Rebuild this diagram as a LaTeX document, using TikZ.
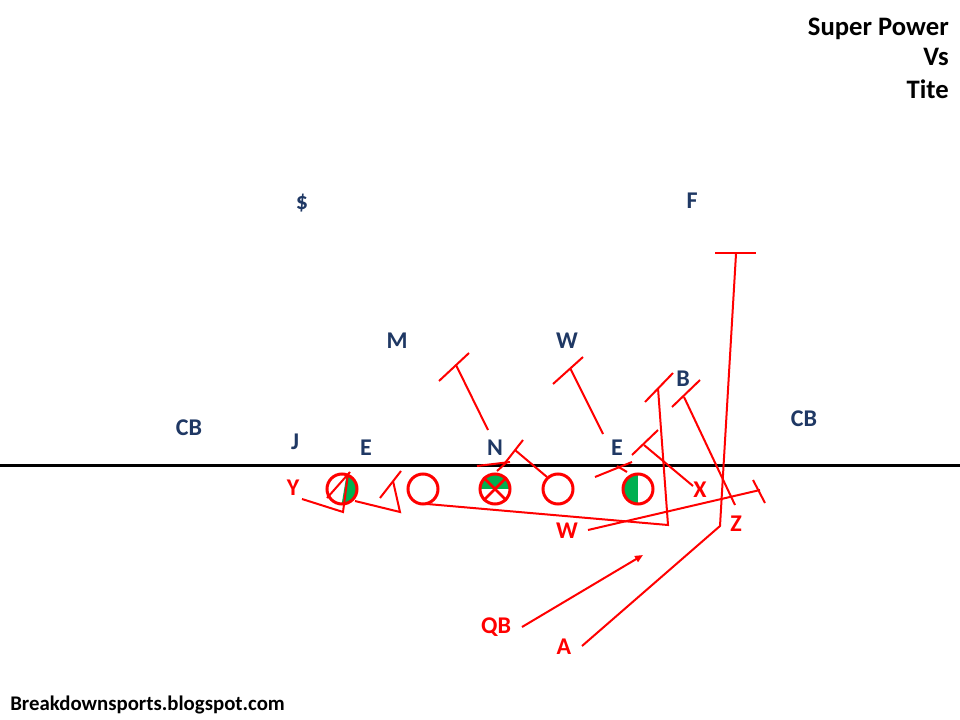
\documentclass[tikz,border=0pt]{standalone}
\usepackage{fontspec}
\setmainfont{Carlito}
\usetikzlibrary{arrows.meta,calc}
\definecolor{navy}{RGB}{31,56,100}
\definecolor{pred}{RGB}{255,0,0}
\definecolor{pgreen}{RGB}{0,176,80}
\begin{document}
\begin{tikzpicture}[x=0.75pt,y=-0.75pt,
  dlab/.style={text=navy,font=\fontsize{18}{22}\selectfont\bfseries,inner sep=0pt,anchor=center},
  olab/.style={text=pred,font=\fontsize{18}{22}\selectfont\bfseries,inner sep=0pt,anchor=center},
  title/.style={text=black,font=\fontsize{20}{24}\selectfont\bfseries,inner sep=0pt,anchor=base east},
  route/.style={draw=pred,line width=1.5pt},
  man/.style={circle,draw=pred,line width=2.25pt,minimum size=22.5pt,inner sep=0pt},
  los/.style={draw=black,line width=2.25pt}]
\useasboundingbox (0,0) rectangle (960,720);
\fill[white] (0,0) rectangle (960,720);

% ---- green fills of the offensive linemen
\begin{scope}
  \clip (342,489) circle[radius=11.25pt];
  \fill[pgreen] (339,520) -- (349,460) -- (370,460) -- (370,520) -- cycle;
\end{scope}
\begin{scope}
  \clip (495,489) circle[radius=11.25pt];
  \fill[pgreen] (475,469) rectangle (515,489);
\end{scope}
\begin{scope}
  \clip (638,489) circle[radius=11.25pt];
  \fill[pgreen] (618,469) rectangle (638,509);
\end{scope}

% ---- line of scrimmage
\coordinate (losL) at (0,465);
\coordinate (losR) at (960,465);
\draw[los] (losL) -- (losR);

% ---- offensive linemen
\node[man] (LT) at (342,489) {};
\node[man] (LG) at (423,489) {};
\node[man] (C)  at (495,489) {};
\node[man] (RG) at (558,489) {};
\node[man] (RT) at (638,489) {};
\draw[pred,line width=2pt] (C.45) -- (C.225);
\draw[pred,line width=2pt] (C.135) -- (C.-45);

% ---- route coordinates
% Y
\coordinate (y1) at (302,499); \coordinate (y2) at (343,512); \coordinate (y3) at (348,474);
\coordinate (y4) at (327,498); \coordinate (y5) at (350,472);
% LT
\coordinate (t1) at (355,501); \coordinate (t2) at (400,512); \coordinate (t3) at (393,481);
\coordinate (t4) at (380,498); \coordinate (t5) at (401,471);
% LG pull
\coordinate (g1) at (427,504); \coordinate (g2) at (668,525); \coordinate (g3) at (658,388);
\coordinate (g4) at (645,402); \coordinate (g5) at (673,373);
% C
\coordinate (c1) at (497,471); \coordinate (c2) at (507,462);
\coordinate (c3) at (477,466); \coordinate (c4) at (510,462);
% RG
\coordinate (r1) at (547,477); \coordinate (r2) at (515,450);
\coordinate (r3) at (505,463); \coordinate (r4) at (523,440);
% RT
\coordinate (k1) at (627,472); \coordinate (k2) at (617,466);
\coordinate (k3) at (595,477); \coordinate (k4) at (632,462);
% N to M
\coordinate (n1) at (488,430); \coordinate (n2) at (456,365);
\coordinate (n3) at (439,381); \coordinate (n4) at (469,353);
% E to W
\coordinate (e1) at (603,434); \coordinate (e2) at (570,368);
\coordinate (e3) at (553,384); \coordinate (e4) at (583,357);
% X
\coordinate (x1) at (693,486); \coordinate (x2) at (644,445);
\coordinate (x3) at (632,455); \coordinate (x4) at (658,430);
% Z
\coordinate (z1) at (735,505); \coordinate (z2) at (684,397);
\coordinate (z3) at (672,407); \coordinate (z4) at (700,380);
% A
\coordinate (a1) at (582,646); \coordinate (a2) at (720,526); \coordinate (a3) at (736,254);
\coordinate (a4) at (715,253); \coordinate (a5) at (756,253);
% W (offense)
\coordinate (w1) at (588,530); \coordinate (w2) at (760,490);
\coordinate (w3) at (753,480); \coordinate (w4) at (765,503);
% QB
\coordinate (q1) at (522,627); \coordinate (q2) at (643,555);

% ---- routes
\draw[route] (y1) -- (y2) -- (y3);
\draw[route] (y4) -- (y5);
\draw[route] (t1) -- (t2) -- (t3);
\draw[route] (t4) -- (t5);
\draw[route] (g1) -- (g2) -- (g3);
\draw[route] (g4) -- (g5);
\draw[route] (c1) -- (c2);
\draw[route] (c3) -- (c4);
\draw[route] (r1) -- (r2);
\draw[route] (r3) -- (r4);
\draw[route] (k1) -- (k2);
\draw[route] (k3) -- (k4);
\draw[route] (n1) -- (n2);
\draw[route] (n3) -- (n4);
\draw[route] (e1) -- (e2);
\draw[route] (e3) -- (e4);
\draw[route] (x1) -- (x2);
\draw[route] (x3) -- (x4);
\draw[route] (z1) -- (z2);
\draw[route] (z3) -- (z4);
\draw[route] (a1) -- (a2) -- (a3);
\draw[route] (a4) -- (a5);
\draw[route] (w1) -- (w2);
\draw[route] (w3) -- (w4);
\draw[route,-{Triangle[length=6pt,width=5pt]}] (q1) -- (q2);

% ---- defense labels
\node[dlab] (dS)  at (302,203) {\$};
\node[dlab] (dF)  at (692,201) {F};
\node[dlab] (dM)  at (397,341) {M};
\node[dlab] (dW)  at (567,341) {W};
\node[dlab] (dB)  at (683,379) {B};
\node[dlab] (dCBl) at (189,428) {CB};
\node[dlab] (dCBr) at (804,419) {CB};
\node[dlab] (dJ)  at (295,442) {J};
\node[dlab] (dEl) at (366,448) {E};
\node[dlab] (dN)  at (495,448) {N};
\node[dlab] (dEr) at (617,448) {E};

% ---- offense labels
\node[olab] (oY)  at (293,488) {Y};
\node[olab] (oX)  at (700,490) {X};
\node[olab] (oW)  at (567,531) {W};
\node[olab] (oZ)  at (736,524) {Z};
\node[olab] (oQB) at (496,627) {QB};
\node[olab] (oA)  at (564,647) {A};

% ---- titles
\node[title] (t1n) at (949,35.5) {Super Power};
\node[title] (t2n) at (949,66) {Vs};
\node[title] (t3n) at (949,99) {Tite};
\node[text=black,font=\fontsize{15.6}{19}\selectfont\bfseries,inner sep=0pt,anchor=base west] (site) at (10,710) {Breakdownsports.blogspot.com};
\end{tikzpicture}
\end{document}
